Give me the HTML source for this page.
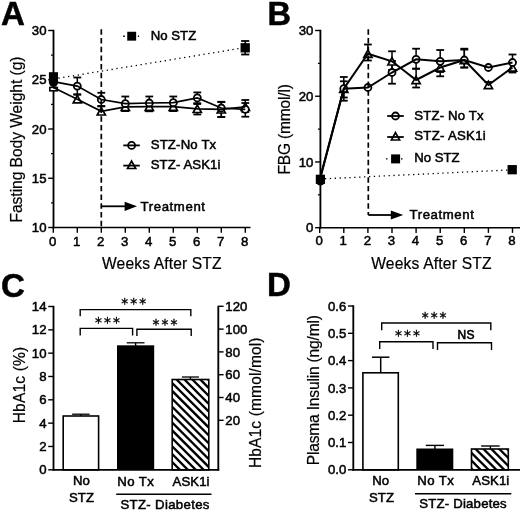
<!DOCTYPE html>
<html lang="en"><head><meta charset="utf-8"><title>Figure</title>
<style>
html,body{margin:0;padding:0;background:#fff;}
body{width:520px;height:512px;overflow:hidden;}
svg{display:block;font-family:'Liberation Sans', sans-serif;fill:#000;}
text{stroke:#000;stroke-width:0.5px;}
</style></head><body>
<svg width="520" height="512" viewBox="0 0 520 512">
<rect width="520" height="512" fill="#fff"/>
<line x1="53.50" y1="29.80" x2="53.50" y2="228.30" stroke="#000" stroke-width="1.85" />
<line x1="52.50" y1="227.50" x2="250.50" y2="227.50" stroke="#000" stroke-width="1.65" />
<line x1="48.20" y1="30.50" x2="53.50" y2="30.50" stroke="#000" stroke-width="1.4" />
<text x="46.50" y="35.10" font-size="13.2" text-anchor="end" >30</text>
<line x1="51.00" y1="55.12" x2="53.50" y2="55.12" stroke="#000" stroke-width="1.2" />
<line x1="48.20" y1="79.75" x2="53.50" y2="79.75" stroke="#000" stroke-width="1.4" />
<text x="46.50" y="84.35" font-size="13.2" text-anchor="end" >25</text>
<line x1="51.00" y1="104.38" x2="53.50" y2="104.38" stroke="#000" stroke-width="1.2" />
<line x1="48.20" y1="129.00" x2="53.50" y2="129.00" stroke="#000" stroke-width="1.4" />
<text x="46.50" y="133.60" font-size="13.2" text-anchor="end" >20</text>
<line x1="51.00" y1="153.62" x2="53.50" y2="153.62" stroke="#000" stroke-width="1.2" />
<line x1="48.20" y1="178.25" x2="53.50" y2="178.25" stroke="#000" stroke-width="1.4" />
<text x="46.50" y="182.85" font-size="13.2" text-anchor="end" >15</text>
<line x1="51.00" y1="202.88" x2="53.50" y2="202.88" stroke="#000" stroke-width="1.2" />
<line x1="48.20" y1="227.50" x2="53.50" y2="227.50" stroke="#000" stroke-width="1.4" />
<text x="46.50" y="232.10" font-size="13.2" text-anchor="end" >10</text>
<line x1="53.30" y1="227.50" x2="53.30" y2="232.70" stroke="#000" stroke-width="1.4" />
<text x="52.70" y="245.60" font-size="13.2" text-anchor="middle" >0</text>
<line x1="77.30" y1="227.50" x2="77.30" y2="232.70" stroke="#000" stroke-width="1.4" />
<text x="76.70" y="245.60" font-size="13.2" text-anchor="middle" >1</text>
<line x1="101.30" y1="227.50" x2="101.30" y2="232.70" stroke="#000" stroke-width="1.4" />
<text x="100.70" y="245.60" font-size="13.2" text-anchor="middle" >2</text>
<line x1="125.30" y1="227.50" x2="125.30" y2="232.70" stroke="#000" stroke-width="1.4" />
<text x="124.70" y="245.60" font-size="13.2" text-anchor="middle" >3</text>
<line x1="149.30" y1="227.50" x2="149.30" y2="232.70" stroke="#000" stroke-width="1.4" />
<text x="148.70" y="245.60" font-size="13.2" text-anchor="middle" >4</text>
<line x1="173.30" y1="227.50" x2="173.30" y2="232.70" stroke="#000" stroke-width="1.4" />
<text x="172.70" y="245.60" font-size="13.2" text-anchor="middle" >5</text>
<line x1="197.30" y1="227.50" x2="197.30" y2="232.70" stroke="#000" stroke-width="1.4" />
<text x="196.70" y="245.60" font-size="13.2" text-anchor="middle" >6</text>
<line x1="221.30" y1="227.50" x2="221.30" y2="232.70" stroke="#000" stroke-width="1.4" />
<text x="220.70" y="245.60" font-size="13.2" text-anchor="middle" >7</text>
<line x1="245.30" y1="227.50" x2="245.30" y2="232.70" stroke="#000" stroke-width="1.4" />
<text x="244.70" y="245.60" font-size="13.2" text-anchor="middle" >8</text>
<text x="21.60" y="222.50" font-size="15.6" text-anchor="start" style="stroke-width:0.2px" textLength="166.00" lengthAdjust="spacing" transform="rotate(-90 21.60 222.50)" >Fasting Body Weight (g)</text>
<line x1="53.50" y1="79.00" x2="245.00" y2="47.60" stroke="#000" stroke-width="1.3" stroke-dasharray="1.3 3.6"/>
<line x1="77.30" y1="94.70" x2="77.30" y2="102.00" stroke="#000" stroke-width="1.5" />
<line x1="73.40" y1="94.70" x2="81.20" y2="94.70" stroke="#000" stroke-width="1.8" />
<line x1="73.40" y1="102.00" x2="81.20" y2="102.00" stroke="#000" stroke-width="1.8" />
<line x1="101.30" y1="106.40" x2="101.30" y2="114.00" stroke="#000" stroke-width="1.5" />
<line x1="97.40" y1="106.40" x2="105.20" y2="106.40" stroke="#000" stroke-width="1.8" />
<line x1="97.40" y1="114.00" x2="105.20" y2="114.00" stroke="#000" stroke-width="1.8" />
<line x1="125.30" y1="103.00" x2="125.30" y2="111.00" stroke="#000" stroke-width="1.5" />
<line x1="121.40" y1="103.00" x2="129.20" y2="103.00" stroke="#000" stroke-width="1.8" />
<line x1="121.40" y1="111.00" x2="129.20" y2="111.00" stroke="#000" stroke-width="1.8" />
<line x1="149.30" y1="103.00" x2="149.30" y2="111.20" stroke="#000" stroke-width="1.5" />
<line x1="145.40" y1="103.00" x2="153.20" y2="103.00" stroke="#000" stroke-width="1.8" />
<line x1="145.40" y1="111.20" x2="153.20" y2="111.20" stroke="#000" stroke-width="1.8" />
<line x1="173.30" y1="103.00" x2="173.30" y2="111.00" stroke="#000" stroke-width="1.5" />
<line x1="169.40" y1="103.00" x2="177.20" y2="103.00" stroke="#000" stroke-width="1.8" />
<line x1="169.40" y1="111.00" x2="177.20" y2="111.00" stroke="#000" stroke-width="1.8" />
<line x1="197.30" y1="104.00" x2="197.30" y2="114.50" stroke="#000" stroke-width="1.5" />
<line x1="193.40" y1="104.00" x2="201.20" y2="104.00" stroke="#000" stroke-width="1.8" />
<line x1="193.40" y1="114.50" x2="201.20" y2="114.50" stroke="#000" stroke-width="1.8" />
<line x1="221.30" y1="102.00" x2="221.30" y2="117.00" stroke="#000" stroke-width="1.5" />
<line x1="217.40" y1="102.00" x2="225.20" y2="102.00" stroke="#000" stroke-width="1.8" />
<line x1="217.40" y1="117.00" x2="225.20" y2="117.00" stroke="#000" stroke-width="1.8" />
<line x1="245.30" y1="103.00" x2="245.30" y2="112.00" stroke="#000" stroke-width="1.5" />
<line x1="241.40" y1="103.00" x2="249.20" y2="103.00" stroke="#000" stroke-width="1.8" />
<line x1="241.40" y1="112.00" x2="249.20" y2="112.00" stroke="#000" stroke-width="1.8" />
<line x1="77.30" y1="77.50" x2="77.30" y2="94.30" stroke="#000" stroke-width="1.5" />
<line x1="73.40" y1="77.50" x2="81.20" y2="77.50" stroke="#000" stroke-width="1.8" />
<line x1="73.40" y1="94.30" x2="81.20" y2="94.30" stroke="#000" stroke-width="1.8" />
<line x1="101.30" y1="92.80" x2="101.30" y2="106.00" stroke="#000" stroke-width="1.5" />
<line x1="97.40" y1="92.80" x2="105.20" y2="92.80" stroke="#000" stroke-width="1.8" />
<line x1="97.40" y1="106.00" x2="105.20" y2="106.00" stroke="#000" stroke-width="1.8" />
<line x1="125.30" y1="96.50" x2="125.30" y2="111.00" stroke="#000" stroke-width="1.5" />
<line x1="121.40" y1="96.50" x2="129.20" y2="96.50" stroke="#000" stroke-width="1.8" />
<line x1="121.40" y1="111.00" x2="129.20" y2="111.00" stroke="#000" stroke-width="1.8" />
<line x1="149.30" y1="96.50" x2="149.30" y2="111.20" stroke="#000" stroke-width="1.5" />
<line x1="145.40" y1="96.50" x2="153.20" y2="96.50" stroke="#000" stroke-width="1.8" />
<line x1="145.40" y1="111.20" x2="153.20" y2="111.20" stroke="#000" stroke-width="1.8" />
<line x1="173.30" y1="96.50" x2="173.30" y2="111.00" stroke="#000" stroke-width="1.5" />
<line x1="169.40" y1="96.50" x2="177.20" y2="96.50" stroke="#000" stroke-width="1.8" />
<line x1="169.40" y1="111.00" x2="177.20" y2="111.00" stroke="#000" stroke-width="1.8" />
<line x1="197.30" y1="92.40" x2="197.30" y2="103.20" stroke="#000" stroke-width="1.5" />
<line x1="193.40" y1="92.40" x2="201.20" y2="92.40" stroke="#000" stroke-width="1.8" />
<line x1="193.40" y1="103.20" x2="201.20" y2="103.20" stroke="#000" stroke-width="1.8" />
<line x1="221.30" y1="101.80" x2="221.30" y2="117.00" stroke="#000" stroke-width="1.5" />
<line x1="217.40" y1="101.80" x2="225.20" y2="101.80" stroke="#000" stroke-width="1.8" />
<line x1="217.40" y1="117.00" x2="225.20" y2="117.00" stroke="#000" stroke-width="1.8" />
<line x1="245.30" y1="100.00" x2="245.30" y2="116.70" stroke="#000" stroke-width="1.5" />
<line x1="241.40" y1="100.00" x2="249.20" y2="100.00" stroke="#000" stroke-width="1.8" />
<line x1="241.40" y1="116.70" x2="249.20" y2="116.70" stroke="#000" stroke-width="1.8" />
<polygon points="77.30,95.50 81.40,102.90 73.20,102.90" fill="#fff" stroke="#000" stroke-width="1.7" stroke-linejoin="miter"/>
<polygon points="101.30,107.60 105.40,115.00 97.20,115.00" fill="#fff" stroke="#000" stroke-width="1.7" stroke-linejoin="miter"/>
<polygon points="125.30,103.10 129.40,110.50 121.20,110.50" fill="#fff" stroke="#000" stroke-width="1.7" stroke-linejoin="miter"/>
<polygon points="149.30,102.90 153.40,110.30 145.20,110.30" fill="#fff" stroke="#000" stroke-width="1.7" stroke-linejoin="miter"/>
<polygon points="173.30,102.90 177.40,110.30 169.20,110.30" fill="#fff" stroke="#000" stroke-width="1.7" stroke-linejoin="miter"/>
<polygon points="197.30,105.10 201.40,112.50 193.20,112.50" fill="#fff" stroke="#000" stroke-width="1.7" stroke-linejoin="miter"/>
<polygon points="221.30,105.60 225.40,113.00 217.20,113.00" fill="#fff" stroke="#000" stroke-width="1.7" stroke-linejoin="miter"/>
<polygon points="245.30,103.10 249.40,110.50 241.20,110.50" fill="#fff" stroke="#000" stroke-width="1.7" stroke-linejoin="miter"/>
<rect x="49.8" y="87.4" width="7.5" height="3.4" fill="#fff" stroke="#000" stroke-width="1.6"/>
<circle cx="53.30" cy="81.70" r="3.5" fill="#fff" stroke="#000" stroke-width="1.8"/>
<circle cx="77.30" cy="86.10" r="3.5" fill="#fff" stroke="#000" stroke-width="1.8"/>
<circle cx="101.30" cy="99.50" r="3.5" fill="#fff" stroke="#000" stroke-width="1.8"/>
<circle cx="125.30" cy="103.70" r="3.5" fill="#fff" stroke="#000" stroke-width="1.8"/>
<circle cx="149.30" cy="103.00" r="3.5" fill="#fff" stroke="#000" stroke-width="1.8"/>
<circle cx="173.30" cy="102.70" r="3.5" fill="#fff" stroke="#000" stroke-width="1.8"/>
<circle cx="197.30" cy="97.90" r="3.5" fill="#fff" stroke="#000" stroke-width="1.8"/>
<circle cx="221.30" cy="108.00" r="3.5" fill="#fff" stroke="#000" stroke-width="1.8"/>
<circle cx="245.30" cy="109.30" r="3.5" fill="#fff" stroke="#000" stroke-width="1.8"/>
<polyline points="53.30,87.40 77.30,99.20 101.30,111.30 125.30,106.80 149.30,106.60 173.30,106.60 197.30,108.80 221.30,109.30 245.30,106.80" fill="none" stroke="#000" stroke-width="1.7" />
<polyline points="53.30,81.70 77.30,86.10 101.30,99.50 125.30,103.70 149.30,103.00 173.30,102.70 197.30,97.90 221.30,108.00 245.30,109.30" fill="none" stroke="#000" stroke-width="1.7" />
<line x1="101.30" y1="29.30" x2="101.30" y2="227.00" stroke="#000" stroke-width="1.7" stroke-dasharray="5.45 3.25"/>
<line x1="245.20" y1="41.00" x2="245.20" y2="54.50" stroke="#000" stroke-width="1.5" />
<line x1="241.10" y1="41.00" x2="249.30" y2="41.00" stroke="#000" stroke-width="1.8" />
<line x1="241.10" y1="54.50" x2="249.30" y2="54.50" stroke="#000" stroke-width="1.8" />
<rect x="48.9" y="72.2" width="9.1" height="11" fill="#000"/>
<circle cx="53.5" cy="82.6" r="4.4" fill="#000"/>
<rect x="240.55" y="43.15" width="9.3" height="9.3" fill="#000"/>
<line x1="123.20" y1="36.20" x2="139.00" y2="36.20" stroke="#000" stroke-width="1.4" stroke-dasharray="1.6 3.3"/>
<rect x="127.25" y="31.75" width="8.9" height="8.9" fill="#000"/>
<text x="150.70" y="40.20" font-size="13.2" text-anchor="start" textLength="45.50" lengthAdjust="spacing" >No STZ</text>
<circle cx="131.60" cy="145.40" r="3.5" fill="#fff" stroke="#000" stroke-width="1.8"/>
<line x1="123.30" y1="145.40" x2="139.80" y2="145.40" stroke="#000" stroke-width="1.8" />
<text x="150.70" y="149.40" font-size="13.2" text-anchor="start" textLength="65.50" lengthAdjust="spacing" >STZ-No Tx</text>
<polygon points="131.60,161.10 135.70,168.50 127.50,168.50" fill="#fff" stroke="#000" stroke-width="1.7" stroke-linejoin="miter"/>
<line x1="123.30" y1="165.60" x2="139.80" y2="165.60" stroke="#000" stroke-width="1.8" />
<text x="150.70" y="169.40" font-size="13.2" text-anchor="start" textLength="69.80" lengthAdjust="spacing" >STZ- ASK1i</text>
<line x1="101.30" y1="206.30" x2="127.00" y2="206.30" stroke="#000" stroke-width="1.8" />
<polygon points="124.6,201.7 137,206.3 124.6,210.9" fill="#000"/>
<text x="140.50" y="211.00" font-size="13.2" text-anchor="start" textLength="64.50" lengthAdjust="spacing" >Treatment</text>
<text x="102.00" y="268.60" font-size="15.6" text-anchor="start" style="stroke-width:0.2px" textLength="119.50" lengthAdjust="spacing" >Weeks After STZ</text>
<text x="1.00" y="25.00" font-size="33" text-anchor="start" font-weight="bold" >A</text>
<line x1="320.40" y1="29.80" x2="320.40" y2="228.50" stroke="#000" stroke-width="1.85" />
<line x1="319.40" y1="227.70" x2="520.00" y2="227.70" stroke="#000" stroke-width="1.65" />
<line x1="315.10" y1="30.50" x2="320.40" y2="30.50" stroke="#000" stroke-width="1.4" />
<text x="313.40" y="35.10" font-size="13.2" text-anchor="end" >30</text>
<line x1="317.90" y1="63.37" x2="320.40" y2="63.37" stroke="#000" stroke-width="1.2" />
<line x1="315.10" y1="96.23" x2="320.40" y2="96.23" stroke="#000" stroke-width="1.4" />
<text x="313.40" y="100.83" font-size="13.2" text-anchor="end" >20</text>
<line x1="317.90" y1="129.10" x2="320.40" y2="129.10" stroke="#000" stroke-width="1.2" />
<line x1="315.10" y1="161.97" x2="320.40" y2="161.97" stroke="#000" stroke-width="1.4" />
<text x="313.40" y="166.57" font-size="13.2" text-anchor="end" >10</text>
<line x1="317.90" y1="194.83" x2="320.40" y2="194.83" stroke="#000" stroke-width="1.2" />
<line x1="315.10" y1="227.70" x2="320.40" y2="227.70" stroke="#000" stroke-width="1.4" />
<text x="313.40" y="232.30" font-size="13.2" text-anchor="end" >0</text>
<line x1="319.70" y1="227.70" x2="319.70" y2="232.90" stroke="#000" stroke-width="1.4" />
<text x="319.10" y="245.30" font-size="13.2" text-anchor="middle" >0</text>
<line x1="343.80" y1="227.70" x2="343.80" y2="232.90" stroke="#000" stroke-width="1.4" />
<text x="343.20" y="245.30" font-size="13.2" text-anchor="middle" >1</text>
<line x1="367.90" y1="227.70" x2="367.90" y2="232.90" stroke="#000" stroke-width="1.4" />
<text x="367.30" y="245.30" font-size="13.2" text-anchor="middle" >2</text>
<line x1="392.00" y1="227.70" x2="392.00" y2="232.90" stroke="#000" stroke-width="1.4" />
<text x="391.40" y="245.30" font-size="13.2" text-anchor="middle" >3</text>
<line x1="416.10" y1="227.70" x2="416.10" y2="232.90" stroke="#000" stroke-width="1.4" />
<text x="415.50" y="245.30" font-size="13.2" text-anchor="middle" >4</text>
<line x1="440.20" y1="227.70" x2="440.20" y2="232.90" stroke="#000" stroke-width="1.4" />
<text x="439.60" y="245.30" font-size="13.2" text-anchor="middle" >5</text>
<line x1="464.30" y1="227.70" x2="464.30" y2="232.90" stroke="#000" stroke-width="1.4" />
<text x="463.70" y="245.30" font-size="13.2" text-anchor="middle" >6</text>
<line x1="488.40" y1="227.70" x2="488.40" y2="232.90" stroke="#000" stroke-width="1.4" />
<text x="487.80" y="245.30" font-size="13.2" text-anchor="middle" >7</text>
<line x1="512.50" y1="227.70" x2="512.50" y2="232.90" stroke="#000" stroke-width="1.4" />
<text x="511.90" y="245.30" font-size="13.2" text-anchor="middle" >8</text>
<text x="290.00" y="174.60" font-size="15.6" text-anchor="start" style="stroke-width:0.2px" textLength="90.50" lengthAdjust="spacing" transform="rotate(-90 290.00 174.60)" >FBG (mmol/l)</text>
<line x1="320.00" y1="179.00" x2="512.00" y2="169.80" stroke="#000" stroke-width="1.3" stroke-dasharray="1.3 3.6"/>
<line x1="343.80" y1="81.30" x2="343.80" y2="97.50" stroke="#000" stroke-width="1.5" />
<line x1="339.90" y1="81.30" x2="347.70" y2="81.30" stroke="#000" stroke-width="1.8" />
<line x1="339.90" y1="97.50" x2="347.70" y2="97.50" stroke="#000" stroke-width="1.8" />
<line x1="367.90" y1="44.50" x2="367.90" y2="60.50" stroke="#000" stroke-width="1.5" />
<line x1="364.00" y1="44.50" x2="371.80" y2="44.50" stroke="#000" stroke-width="1.8" />
<line x1="364.00" y1="60.50" x2="371.80" y2="60.50" stroke="#000" stroke-width="1.8" />
<line x1="392.00" y1="51.30" x2="392.00" y2="70.00" stroke="#000" stroke-width="1.5" />
<line x1="388.10" y1="51.30" x2="395.90" y2="51.30" stroke="#000" stroke-width="1.8" />
<line x1="388.10" y1="70.00" x2="395.90" y2="70.00" stroke="#000" stroke-width="1.8" />
<line x1="416.10" y1="68.70" x2="416.10" y2="87.50" stroke="#000" stroke-width="1.5" />
<line x1="412.20" y1="68.70" x2="420.00" y2="68.70" stroke="#000" stroke-width="1.8" />
<line x1="412.20" y1="87.50" x2="420.00" y2="87.50" stroke="#000" stroke-width="1.8" />
<line x1="440.20" y1="60.00" x2="440.20" y2="76.30" stroke="#000" stroke-width="1.5" />
<line x1="436.30" y1="60.00" x2="444.10" y2="60.00" stroke="#000" stroke-width="1.8" />
<line x1="436.30" y1="76.30" x2="444.10" y2="76.30" stroke="#000" stroke-width="1.8" />
<line x1="464.30" y1="49.60" x2="464.30" y2="67.50" stroke="#000" stroke-width="1.5" />
<line x1="460.40" y1="49.60" x2="468.20" y2="49.60" stroke="#000" stroke-width="1.8" />
<line x1="460.40" y1="67.50" x2="468.20" y2="67.50" stroke="#000" stroke-width="1.8" />
<line x1="488.40" y1="82.00" x2="488.40" y2="88.00" stroke="#000" stroke-width="1.5" />
<line x1="484.50" y1="82.00" x2="492.30" y2="82.00" stroke="#000" stroke-width="1.8" />
<line x1="484.50" y1="88.00" x2="492.30" y2="88.00" stroke="#000" stroke-width="1.8" />
<line x1="512.50" y1="62.00" x2="512.50" y2="72.50" stroke="#000" stroke-width="1.5" />
<line x1="508.60" y1="62.00" x2="516.40" y2="62.00" stroke="#000" stroke-width="1.8" />
<line x1="508.60" y1="72.50" x2="516.40" y2="72.50" stroke="#000" stroke-width="1.8" />
<line x1="343.80" y1="77.00" x2="343.80" y2="100.70" stroke="#000" stroke-width="1.5" />
<line x1="339.90" y1="77.00" x2="347.70" y2="77.00" stroke="#000" stroke-width="1.8" />
<line x1="339.90" y1="100.70" x2="347.70" y2="100.70" stroke="#000" stroke-width="1.8" />
<line x1="392.00" y1="61.00" x2="392.00" y2="83.70" stroke="#000" stroke-width="1.5" />
<line x1="388.10" y1="61.00" x2="395.90" y2="61.00" stroke="#000" stroke-width="1.8" />
<line x1="388.10" y1="83.70" x2="395.90" y2="83.70" stroke="#000" stroke-width="1.8" />
<line x1="416.10" y1="48.70" x2="416.10" y2="68.70" stroke="#000" stroke-width="1.5" />
<line x1="412.20" y1="48.70" x2="420.00" y2="48.70" stroke="#000" stroke-width="1.8" />
<line x1="412.20" y1="68.70" x2="420.00" y2="68.70" stroke="#000" stroke-width="1.8" />
<line x1="440.20" y1="50.00" x2="440.20" y2="72.00" stroke="#000" stroke-width="1.5" />
<line x1="436.30" y1="50.00" x2="444.10" y2="50.00" stroke="#000" stroke-width="1.8" />
<line x1="436.30" y1="72.00" x2="444.10" y2="72.00" stroke="#000" stroke-width="1.8" />
<line x1="464.30" y1="48.70" x2="464.30" y2="67.50" stroke="#000" stroke-width="1.5" />
<line x1="460.40" y1="48.70" x2="468.20" y2="48.70" stroke="#000" stroke-width="1.8" />
<line x1="460.40" y1="67.50" x2="468.20" y2="67.50" stroke="#000" stroke-width="1.8" />
<line x1="512.50" y1="54.50" x2="512.50" y2="70.00" stroke="#000" stroke-width="1.5" />
<line x1="508.60" y1="54.50" x2="516.40" y2="54.50" stroke="#000" stroke-width="1.8" />
<line x1="508.60" y1="70.00" x2="516.40" y2="70.00" stroke="#000" stroke-width="1.8" />
<polygon points="343.80,85.00 347.90,92.40 339.70,92.40" fill="#fff" stroke="#000" stroke-width="1.7" stroke-linejoin="miter"/>
<polygon points="367.90,50.00 372.00,57.40 363.80,57.40" fill="#fff" stroke="#000" stroke-width="1.7" stroke-linejoin="miter"/>
<polygon points="392.00,57.60 396.10,65.00 387.90,65.00" fill="#fff" stroke="#000" stroke-width="1.7" stroke-linejoin="miter"/>
<polygon points="416.10,76.30 420.20,83.70 412.00,83.70" fill="#fff" stroke="#000" stroke-width="1.7" stroke-linejoin="miter"/>
<polygon points="440.20,63.80 444.30,71.20 436.10,71.20" fill="#fff" stroke="#000" stroke-width="1.7" stroke-linejoin="miter"/>
<polygon points="464.30,56.30 468.40,63.70 460.20,63.70" fill="#fff" stroke="#000" stroke-width="1.7" stroke-linejoin="miter"/>
<polygon points="488.40,81.30 492.50,88.70 484.30,88.70" fill="#fff" stroke="#000" stroke-width="1.7" stroke-linejoin="miter"/>
<polygon points="512.50,63.80 516.60,71.20 508.40,71.20" fill="#fff" stroke="#000" stroke-width="1.7" stroke-linejoin="miter"/>
<circle cx="343.80" cy="88.70" r="3.5" fill="#fff" stroke="#000" stroke-width="1.8"/>
<circle cx="367.90" cy="87.50" r="3.5" fill="#fff" stroke="#000" stroke-width="1.8"/>
<circle cx="392.00" cy="72.50" r="3.5" fill="#fff" stroke="#000" stroke-width="1.8"/>
<circle cx="416.10" cy="59.30" r="3.5" fill="#fff" stroke="#000" stroke-width="1.8"/>
<circle cx="440.20" cy="61.30" r="3.5" fill="#fff" stroke="#000" stroke-width="1.8"/>
<circle cx="464.30" cy="60.00" r="3.5" fill="#fff" stroke="#000" stroke-width="1.8"/>
<circle cx="488.40" cy="67.50" r="3.5" fill="#fff" stroke="#000" stroke-width="1.8"/>
<circle cx="512.50" cy="62.50" r="3.5" fill="#fff" stroke="#000" stroke-width="1.8"/>
<polyline points="319.70,179.50 343.80,88.70 367.90,53.70 392.00,61.30 416.10,80.00 440.20,67.50 464.30,60.00 488.40,85.00 512.50,67.50" fill="none" stroke="#000" stroke-width="2.0" />
<polyline points="319.70,180.50 343.80,88.70 367.90,87.50 392.00,72.50 416.10,59.30 440.20,61.30 464.30,60.00 488.40,67.50 512.50,62.50" fill="none" stroke="#000" stroke-width="2.0" />
<line x1="368.30" y1="29.30" x2="368.30" y2="215.00" stroke="#000" stroke-width="1.7" stroke-dasharray="5.45 3.25"/>
<rect x="315.80" y="174.70" width="9.2" height="9.2" fill="#000"/>
<circle cx="320.4" cy="181.3" r="4.3" fill="#000"/>
<rect x="507.55" y="165.05" width="9.3" height="9.3" fill="#000"/>
<circle cx="395.50" cy="116.00" r="3.5" fill="#fff" stroke="#000" stroke-width="1.8"/>
<line x1="387.20" y1="116.00" x2="403.80" y2="116.00" stroke="#000" stroke-width="1.8" />
<text x="414.20" y="119.70" font-size="13.2" text-anchor="start" textLength="69.50" lengthAdjust="spacing" >STZ- No Tx</text>
<polygon points="395.50,132.60 399.60,140.00 391.40,140.00" fill="#fff" stroke="#000" stroke-width="1.7" stroke-linejoin="miter"/>
<line x1="387.20" y1="137.00" x2="403.80" y2="137.00" stroke="#000" stroke-width="1.8" />
<text x="414.20" y="140.20" font-size="13.2" text-anchor="start" textLength="71.50" lengthAdjust="spacing" >STZ- ASK1i</text>
<line x1="386.00" y1="158.90" x2="405.00" y2="158.90" stroke="#000" stroke-width="1.3" stroke-dasharray="1.5 3.5"/>
<rect x="391.10" y="154.40" width="9" height="9" fill="#000"/>
<text x="414.20" y="162.40" font-size="13.2" text-anchor="start" textLength="45.30" lengthAdjust="spacing" >No STZ</text>
<line x1="368.30" y1="215.00" x2="393.00" y2="215.00" stroke="#000" stroke-width="1.8" />
<polygon points="390.8,210.4 403.2,215 390.8,219.6" fill="#000"/>
<text x="409.50" y="218.60" font-size="13.2" text-anchor="start" textLength="64.30" lengthAdjust="spacing" >Treatment</text>
<text x="371.20" y="268.60" font-size="15.6" text-anchor="start" style="stroke-width:0.2px" textLength="120.30" lengthAdjust="spacing" >Weeks After STZ</text>
<text x="267.40" y="25.30" font-size="32.6" text-anchor="start" font-weight="bold" >B</text>
<line x1="53.50" y1="305.80" x2="53.50" y2="470.60" stroke="#000" stroke-width="1.85" />
<line x1="52.50" y1="469.80" x2="219.20" y2="469.80" stroke="#000" stroke-width="1.65" />
<line x1="48.20" y1="306.50" x2="53.50" y2="306.50" stroke="#000" stroke-width="1.4" />
<text x="46.50" y="311.10" font-size="13.2" text-anchor="end" >14</text>
<line x1="48.20" y1="329.83" x2="53.50" y2="329.83" stroke="#000" stroke-width="1.4" />
<text x="46.50" y="334.43" font-size="13.2" text-anchor="end" >12</text>
<line x1="48.20" y1="353.16" x2="53.50" y2="353.16" stroke="#000" stroke-width="1.4" />
<text x="46.50" y="357.76" font-size="13.2" text-anchor="end" >10</text>
<line x1="48.20" y1="376.49" x2="53.50" y2="376.49" stroke="#000" stroke-width="1.4" />
<text x="46.50" y="381.09" font-size="13.2" text-anchor="end" >8</text>
<line x1="48.20" y1="399.81" x2="53.50" y2="399.81" stroke="#000" stroke-width="1.4" />
<text x="46.50" y="404.41" font-size="13.2" text-anchor="end" >6</text>
<line x1="48.20" y1="423.14" x2="53.50" y2="423.14" stroke="#000" stroke-width="1.4" />
<text x="46.50" y="427.74" font-size="13.2" text-anchor="end" >4</text>
<line x1="48.20" y1="446.47" x2="53.50" y2="446.47" stroke="#000" stroke-width="1.4" />
<text x="46.50" y="451.07" font-size="13.2" text-anchor="end" >2</text>
<line x1="48.20" y1="469.80" x2="53.50" y2="469.80" stroke="#000" stroke-width="1.4" />
<text x="46.50" y="474.40" font-size="13.2" text-anchor="end" >0</text>
<line x1="218.30" y1="305.80" x2="218.30" y2="470.60" stroke="#000" stroke-width="1.85" />
<line x1="218.30" y1="306.30" x2="223.60" y2="306.30" stroke="#000" stroke-width="1.4" />
<text x="225.30" y="310.90" font-size="13.2" text-anchor="start" >120</text>
<line x1="218.30" y1="329.10" x2="223.60" y2="329.10" stroke="#000" stroke-width="1.4" />
<text x="225.30" y="333.70" font-size="13.2" text-anchor="start" >100</text>
<line x1="218.30" y1="351.90" x2="223.60" y2="351.90" stroke="#000" stroke-width="1.4" />
<text x="225.30" y="356.50" font-size="13.2" text-anchor="start" >80</text>
<line x1="218.30" y1="374.70" x2="223.60" y2="374.70" stroke="#000" stroke-width="1.4" />
<text x="225.30" y="379.30" font-size="13.2" text-anchor="start" >60</text>
<line x1="218.30" y1="397.50" x2="223.60" y2="397.50" stroke="#000" stroke-width="1.4" />
<text x="225.30" y="402.10" font-size="13.2" text-anchor="start" >40</text>
<line x1="218.30" y1="420.30" x2="223.60" y2="420.30" stroke="#000" stroke-width="1.4" />
<text x="225.30" y="424.90" font-size="13.2" text-anchor="start" >20</text>
<text x="25.20" y="423.30" font-size="15.6" text-anchor="start" style="stroke-width:0.2px" textLength="76.50" lengthAdjust="spacing" transform="rotate(-90 25.20 423.30)" >HbA1c (%)</text>
<text x="260.80" y="468.00" font-size="15.6" text-anchor="start" style="stroke-width:0.2px" textLength="130.50" lengthAdjust="spacing" transform="rotate(-90 260.80 468.00)" >HbA1c (mmol/mol)</text>
<line x1="80.90" y1="414.20" x2="80.90" y2="416.00" stroke="#000" stroke-width="1.4" />
<line x1="72.15" y1="414.20" x2="89.65" y2="414.20" stroke="#000" stroke-width="1.3" />
<rect x="63.2" y="416" width="35.4" height="53.80" fill="#fff" stroke="#000" stroke-width="1.6"/>
<line x1="135.60" y1="342.80" x2="135.60" y2="346.00" stroke="#000" stroke-width="1.4" />
<line x1="126.70" y1="342.80" x2="144.50" y2="342.80" stroke="#000" stroke-width="1.3" />
<rect x="117" y="345.3" width="37.2" height="124.50" fill="#000"/>
<line x1="190.40" y1="377.00" x2="190.40" y2="380.00" stroke="#000" stroke-width="1.4" />
<line x1="181.90" y1="377.00" x2="198.90" y2="377.00" stroke="#000" stroke-width="1.3" />
<clipPath id="hc"><rect x="172.2" y="379.5" width="36.6" height="90.30"/></clipPath>
<rect x="172.2" y="379.5" width="36.6" height="90.30" fill="#fff"/>
<g clip-path="url(#hc)" stroke="#000" stroke-width="2.3">
<line x1="169.20" y1="332.65" x2="211.80" y2="375.25"/>
<line x1="169.20" y1="340.55" x2="211.80" y2="383.15"/>
<line x1="169.20" y1="348.45" x2="211.80" y2="391.05"/>
<line x1="169.20" y1="356.35" x2="211.80" y2="398.95"/>
<line x1="169.20" y1="364.25" x2="211.80" y2="406.85"/>
<line x1="169.20" y1="372.15" x2="211.80" y2="414.75"/>
<line x1="169.20" y1="380.05" x2="211.80" y2="422.65"/>
<line x1="169.20" y1="387.95" x2="211.80" y2="430.55"/>
<line x1="169.20" y1="395.85" x2="211.80" y2="438.45"/>
<line x1="169.20" y1="403.75" x2="211.80" y2="446.35"/>
<line x1="169.20" y1="411.65" x2="211.80" y2="454.25"/>
<line x1="169.20" y1="419.55" x2="211.80" y2="462.15"/>
<line x1="169.20" y1="427.45" x2="211.80" y2="470.05"/>
<line x1="169.20" y1="435.35" x2="211.80" y2="477.95"/>
<line x1="169.20" y1="443.25" x2="211.80" y2="485.85"/>
<line x1="169.20" y1="451.15" x2="211.80" y2="493.75"/>
<line x1="169.20" y1="459.05" x2="211.80" y2="501.65"/>
<line x1="169.20" y1="466.95" x2="211.80" y2="509.55"/>
</g>
<rect x="172.2" y="379.5" width="36.6" height="90.30" fill="none" stroke="#000" stroke-width="1.6"/>
<polyline points="80.20,316.30 80.20,309.60 190.80,309.60 190.80,316.30" fill="none" stroke="#000" stroke-width="1.4" stroke-linejoin="miter"/>
<polyline points="80.20,335.40 80.20,328.40 132.60,328.40 132.60,335.40" fill="none" stroke="#000" stroke-width="1.4" stroke-linejoin="miter"/>
<polyline points="136.90,336.00 136.90,329.30 191.20,329.30 191.20,336.00" fill="none" stroke="#000" stroke-width="1.4" stroke-linejoin="miter"/>
<text x="121.30 130.25 139.20" y="307.90" font-size="13.8" font-family="'DejaVu Sans', sans-serif" style="stroke-width:0.35px">***</text>
<text x="95.00 103.95 112.90" y="326.60" font-size="13.8" font-family="'DejaVu Sans', sans-serif" style="stroke-width:0.35px">***</text>
<text x="152.60 161.55 170.50" y="328.90" font-size="13.8" font-family="'DejaVu Sans', sans-serif" style="stroke-width:0.35px">***</text>
<text x="81.50" y="485.20" font-size="13.2" text-anchor="middle" >No</text>
<text x="81.50" y="501.60" font-size="13.2" text-anchor="middle" >STZ</text>
<text x="135.60" y="485.50" font-size="13.2" text-anchor="middle" textLength="36.60" lengthAdjust="spacing" >No Tx</text>
<text x="191.00" y="485.80" font-size="13.2" text-anchor="middle" textLength="37.00" lengthAdjust="spacing" >ASK1i</text>
<line x1="116.20" y1="494.30" x2="211.50" y2="494.30" stroke="#000" stroke-width="1.5" />
<text x="164.90" y="508.80" font-size="13.2" text-anchor="middle" textLength="89.00" lengthAdjust="spacing" >STZ- Diabetes</text>
<text x="1.00" y="297.30" font-size="33" text-anchor="start" font-weight="bold" >C</text>
<line x1="353.30" y1="305.30" x2="353.30" y2="470.60" stroke="#000" stroke-width="1.85" />
<line x1="352.30" y1="469.80" x2="520.00" y2="469.80" stroke="#000" stroke-width="1.65" />
<line x1="348.00" y1="306.00" x2="353.30" y2="306.00" stroke="#000" stroke-width="1.4" />
<text x="346.30" y="310.60" font-size="13.2" text-anchor="end" >0.6</text>
<line x1="348.00" y1="333.30" x2="353.30" y2="333.30" stroke="#000" stroke-width="1.4" />
<text x="346.30" y="337.90" font-size="13.2" text-anchor="end" >0.5</text>
<line x1="348.00" y1="360.60" x2="353.30" y2="360.60" stroke="#000" stroke-width="1.4" />
<text x="346.30" y="365.20" font-size="13.2" text-anchor="end" >0.4</text>
<line x1="348.00" y1="387.90" x2="353.30" y2="387.90" stroke="#000" stroke-width="1.4" />
<text x="346.30" y="392.50" font-size="13.2" text-anchor="end" >0.3</text>
<line x1="348.00" y1="415.20" x2="353.30" y2="415.20" stroke="#000" stroke-width="1.4" />
<text x="346.30" y="419.80" font-size="13.2" text-anchor="end" >0.2</text>
<line x1="348.00" y1="442.50" x2="353.30" y2="442.50" stroke="#000" stroke-width="1.4" />
<text x="346.30" y="447.10" font-size="13.2" text-anchor="end" >0.1</text>
<line x1="348.00" y1="469.80" x2="353.30" y2="469.80" stroke="#000" stroke-width="1.4" />
<text x="346.30" y="474.40" font-size="13.2" text-anchor="end" >0.0</text>
<text x="319.50" y="465.30" font-size="15.6" text-anchor="start" style="stroke-width:0.2px" textLength="150.30" lengthAdjust="spacing" transform="rotate(-90 319.50 465.30)" >Plasma Insulin (ng/ml)</text>
<line x1="380.70" y1="357.20" x2="380.70" y2="373.00" stroke="#000" stroke-width="1.5" />
<line x1="371.95" y1="357.20" x2="389.45" y2="357.20" stroke="#000" stroke-width="1.5" />
<rect x="362.9" y="372.8" width="35.4" height="97.00" fill="#fff" stroke="#000" stroke-width="1.6"/>
<line x1="434.90" y1="445.40" x2="434.90" y2="449.00" stroke="#000" stroke-width="1.4" />
<line x1="425.80" y1="445.40" x2="444.00" y2="445.40" stroke="#000" stroke-width="1.4" />
<rect x="416.3" y="448.5" width="37" height="21.30" fill="#000"/>
<line x1="490.40" y1="446.00" x2="490.40" y2="449.50" stroke="#000" stroke-width="1.4" />
<line x1="481.15" y1="446.00" x2="499.65" y2="446.00" stroke="#000" stroke-width="1.4" />
<clipPath id="hd"><rect x="471.5" y="449" width="36.8" height="20.80"/></clipPath>
<rect x="471.5" y="449" width="36.8" height="20.80" fill="#fff"/>
<g clip-path="url(#hd)" stroke="#000" stroke-width="2.3">
<line x1="468.50" y1="402.40" x2="511.30" y2="445.20"/>
<line x1="468.50" y1="410.30" x2="511.30" y2="453.10"/>
<line x1="468.50" y1="418.20" x2="511.30" y2="461.00"/>
<line x1="468.50" y1="426.10" x2="511.30" y2="468.90"/>
<line x1="468.50" y1="434.00" x2="511.30" y2="476.80"/>
<line x1="468.50" y1="441.90" x2="511.30" y2="484.70"/>
<line x1="468.50" y1="449.80" x2="511.30" y2="492.60"/>
<line x1="468.50" y1="457.70" x2="511.30" y2="500.50"/>
<line x1="468.50" y1="465.60" x2="511.30" y2="508.40"/>
</g>
<rect x="471.5" y="449" width="36.8" height="20.80" fill="none" stroke="#000" stroke-width="1.6"/>
<polyline points="381.70,330.20 381.70,323.00 490.80,323.00 490.80,330.20" fill="none" stroke="#000" stroke-width="1.4" stroke-linejoin="miter"/>
<polyline points="379.70,349.00 379.70,341.80 433.00,341.80 433.00,349.00" fill="none" stroke="#000" stroke-width="1.4" stroke-linejoin="miter"/>
<polyline points="437.50,350.00 437.50,342.80 491.50,342.80 491.50,350.00" fill="none" stroke="#000" stroke-width="1.4" stroke-linejoin="miter"/>
<text x="421.70 430.65 439.60" y="322.20" font-size="13.8" font-family="'DejaVu Sans', sans-serif" style="stroke-width:0.35px">***</text>
<text x="395.10 404.05 413.00" y="340.10" font-size="13.8" font-family="'DejaVu Sans', sans-serif" style="stroke-width:0.35px">***</text>
<text x="466.00" y="338.60" font-size="12" text-anchor="middle" textLength="16.80" lengthAdjust="spacing" style="stroke-width:0.6px">NS</text>
<text x="380.70" y="485.20" font-size="13.2" text-anchor="middle" >No</text>
<text x="381.50" y="501.60" font-size="13.2" text-anchor="middle" >STZ</text>
<text x="435.60" y="485.20" font-size="13.2" text-anchor="middle" textLength="36.60" lengthAdjust="spacing" >No Tx</text>
<text x="490.80" y="485.20" font-size="13.2" text-anchor="middle" textLength="37.00" lengthAdjust="spacing" >ASK1i</text>
<line x1="415.00" y1="493.70" x2="511.30" y2="493.70" stroke="#000" stroke-width="1.5" />
<text x="463.00" y="508.30" font-size="13.2" text-anchor="middle" textLength="87.30" lengthAdjust="spacing" >STZ- Diabetes</text>
<text x="267.00" y="296.00" font-size="33" text-anchor="start" font-weight="bold" >D</text>
</svg>
</body></html>
